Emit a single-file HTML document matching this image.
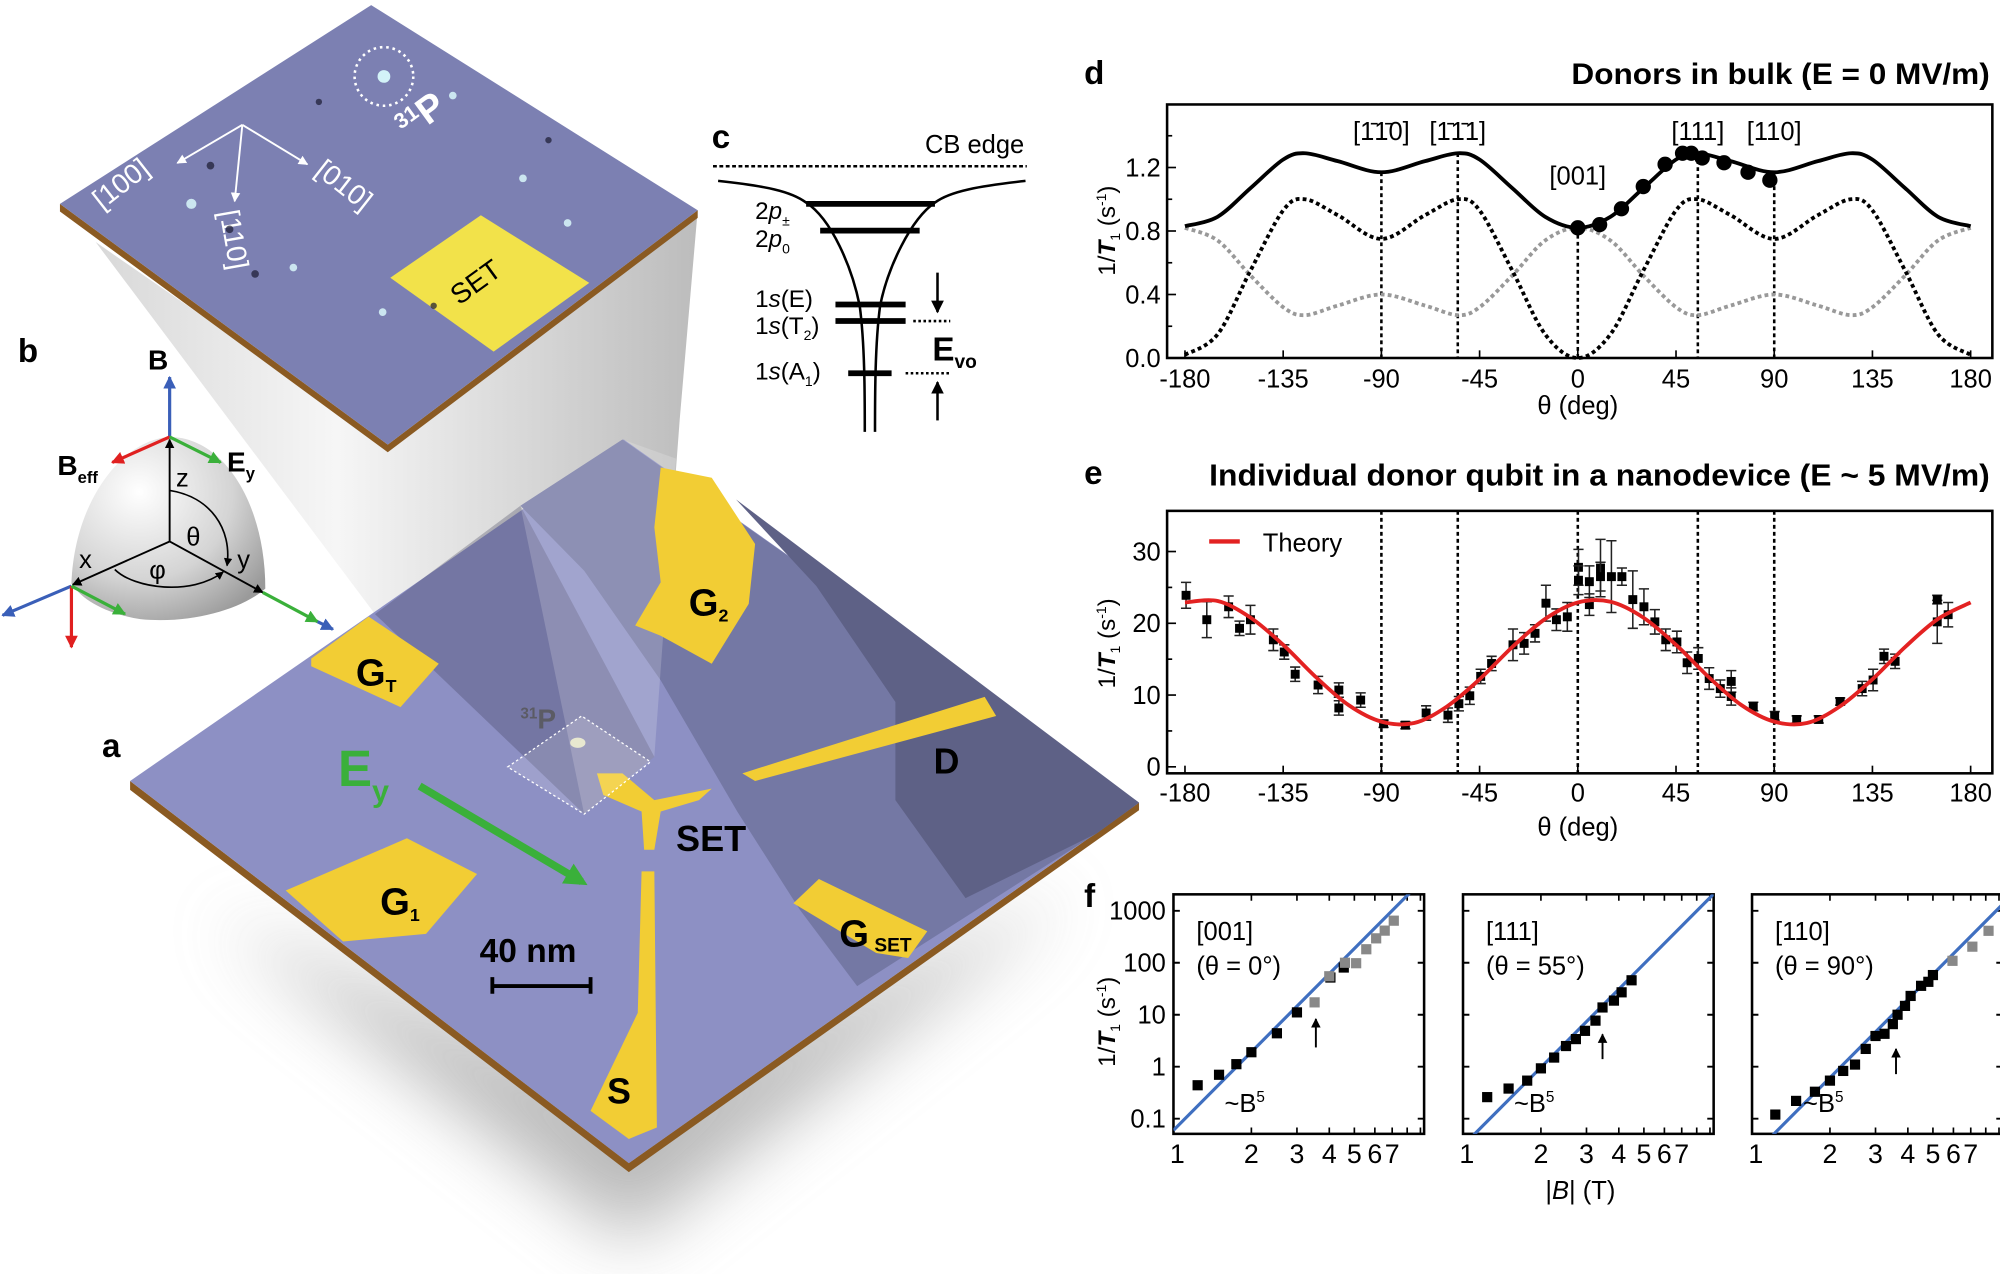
<!DOCTYPE html>
<html><head><meta charset="utf-8"><style>
html,body{margin:0;padding:0;background:#fff;width:2000px;height:1274px;overflow:hidden}
svg{display:block}
text{font-family:"Liberation Sans",sans-serif}
.n{font-family:"Liberation Sans Narrow","Liberation Sans",sans-serif}
</style></head><body>
<svg id="fig" width="2000" height="1274" viewBox="0 0 1568 1000" preserveAspectRatio="none" xmlns="http://www.w3.org/2000/svg">
<defs>
<linearGradient id="funnel" x1="0" y1="0" x2="1" y2="0"><stop offset="0" stop-color="#d8d8d8"/><stop offset="0.4" stop-color="#f6f6f6"/><stop offset="1" stop-color="#bcbcbc"/></linearGradient>
<radialGradient id="dome" cx="0.35" cy="0.3" r="0.8"><stop offset="0" stop-color="#ffffff"/><stop offset="0.6" stop-color="#d4d4d4"/><stop offset="1" stop-color="#9a9a9a"/></radialGradient>
<filter id="blur" x="-50%" y="-50%" width="200%" height="200%"><feGaussianBlur stdDeviation="28"/></filter>
<marker id="ah" viewBox="0 0 10 10" refX="9" refY="5" markerWidth="5" markerHeight="5" orient="auto"><path d="M0,0L10,5L0,10z" fill="#000"/></marker>
<marker id="ahw" viewBox="0 0 10 10" refX="9" refY="5" markerWidth="5" markerHeight="5" orient="auto"><path d="M0,0L10,5L0,10z" fill="#fff"/></marker>
<marker id="ahr" viewBox="0 0 10 10" refX="9" refY="5" markerWidth="4" markerHeight="4" orient="auto"><path d="M0,0L10,5L0,10z" fill="#e02020"/></marker>
<marker id="ahg" viewBox="0 0 10 10" refX="9" refY="5" markerWidth="4" markerHeight="4" orient="auto"><path d="M0,0L10,5L0,10z" fill="#3ab03a"/></marker>
<marker id="ahb" viewBox="0 0 10 10" refX="9" refY="5" markerWidth="4" markerHeight="4" orient="auto"><path d="M0,0L10,5L0,10z" fill="#3a5fb8"/></marker>
<marker id="ahG" viewBox="0 0 10 10" refX="7" refY="5" markerWidth="3" markerHeight="3" orient="auto"><path d="M0,0L10,5L0,10z" fill="#3ab03a"/></marker>
</defs>

<g>
  <polygon points="170,720 493,975 840,700 493,860" fill="#8a8a8a" opacity="0.6" filter="url(#blur)"/>
  <polygon points="75,190 304,349 547,165 533,328 513,594 458,639 294,482" fill="url(#funnel)"/>
  <polygon points="102,613 493,913 893,630 893,636 493,920 102,620" fill="#8a5a22"/>
  <polygon points="102,613 489,345 893,630 493,913" fill="#8d90c4"/>
  <polygon points="408,397 488,345 893,630 860,654 672,774 627,714 578,637 518,534 458,448" fill="#7478a4"/>
  <polygon points="577,392 893,630 860,654 757,705 702,628 702,551 640,460" fill="#5e6186"/>
  <polygon points="294,482 408,397 513,594 458,639" fill="#3a3c55" opacity="0.3"/>
  <polygon points="408,397 488,345 530,360 513,594 458,639" fill="#ffffff" opacity="0.18"/>
  <polygon points="244,517 289,484 344,521 314,555 244,523" fill="#f2cd34"/>
  <polygon points="518,367 558,375 592,427 587,474 558,521 518,499 498,491 518,457 513,414" fill="#f2cd34"/>
  <polygon points="224,699 319,658 374,686 334,733 269,739" fill="#f2cd34"/>
  <polygon points="622,709 642,690 727,731 712,752 687,748" fill="#f2cd34"/>
  <polygon points="582,607 772,547 781,562 592,613" fill="#f2cd34"/>
  <polygon points="503,684 513,684 515,885 493,894 463,872 500,795" fill="#f2cd34"/>
  <polygon points="468,607 488,607 513,628 558,619 548,628 518,637 513,667 505,667 503,637 473,624" fill="#f2cd34"/>
  <polygon points="398,602 456,562 510,598 458,639" fill="#ffffff" fill-opacity="0.15" stroke="#fff" stroke-width="1" stroke-dasharray="2,2"/>
  <ellipse cx="453" cy="583" rx="6" ry="4" fill="#e8e8d0"/>
  <text x="279" y="538" font-size="30" font-weight="bold">G<tspan font-size="14" dy="5">T</tspan></text>
  <text x="540" y="483" font-size="30" font-weight="bold">G<tspan font-size="14" dy="5">2</tspan></text>
  <text x="408" y="572" font-size="22" font-weight="bold" fill="#555" opacity="0.8"><tspan font-size="12" dy="-8">31</tspan><tspan dy="8">P</tspan></text>
  <text x="732" y="607" font-size="28" font-weight="bold">D</text>
  <text x="530" y="668" font-size="28" font-weight="bold" textLength="55" lengthAdjust="spacingAndGlyphs">SET</text>
  <text x="265" y="617" font-size="40" font-weight="bold" fill="#3ab03a">E<tspan font-size="24" dy="12">y</tspan></text>
  <line x1="329" y1="617" x2="456" y2="692" stroke="#3ab03a" stroke-width="6" marker-end="url(#ahG)"/>
  <text x="298" y="718" font-size="30" font-weight="bold">G<tspan font-size="14" dy="5">1</tspan></text>
  <text x="658" y="743" font-size="30" font-weight="bold">G<tspan font-size="15" dy="4"> SET</tspan></text>
  <text x="376" y="755" font-size="26" font-weight="bold" textLength="76" lengthAdjust="spacingAndGlyphs">40 nm</text>
  <path d="M386,767V780M386,774H463M463,767V780" stroke="#000" stroke-width="3" fill="none"/>
  <text x="476" y="866" font-size="28" font-weight="bold">S</text>
  <text x="80" y="594" font-size="26" font-weight="bold">a</text>
  <polygon points="47,160 304,349 547,165 547,171 304,355 47,166" fill="#8a5a22"/>
  <polygon points="291,4 547,165 304,349 47,160" fill="#7c80b2"/>
  <polygon points="377,169 462,222 387,276 306,218" fill="#f2e24a"/>
  <text transform="translate(360,240) rotate(-36)" font-size="22">SET</text>
  <circle cx="301" cy="60" r="23" fill="none" stroke="#fff" stroke-width="2" stroke-dasharray="2,3"/>
  <circle cx="301" cy="60" r="5" fill="#dff" opacity="0.9"/>
  <text transform="translate(320,110) rotate(-36)" font-size="30" font-weight="bold" fill="#fff"><tspan font-size="17" dy="-10">31</tspan><tspan dy="10">P</tspan></text>
  <line x1="190" y1="98" x2="139" y2="128" stroke="#fff" stroke-width="1.5" marker-end="url(#ahw)"/>
  <line x1="190" y1="98" x2="184" y2="158" stroke="#fff" stroke-width="1.5" marker-end="url(#ahw)"/>
  <line x1="190" y1="98" x2="241" y2="129" stroke="#fff" stroke-width="1.5" marker-end="url(#ahw)"/>
  <text transform="translate(80,165) rotate(-38)" font-size="22" fill="#fff">[100]</text>
  <text transform="translate(172,166) rotate(80)" font-size="22" fill="#fff">[110]</text>
  <text transform="translate(246,136) rotate(38)" font-size="22" fill="#fff">[010]</text>
  <g fill="#dfffff" opacity="0.8"><circle cx="150" cy="160" r="4"/><circle cx="355" cy="75" r="3"/><circle cx="410" cy="140" r="3"/><circle cx="445" cy="175" r="3"/><circle cx="300" cy="245" r="3"/><circle cx="230" cy="210" r="3"/></g>
  <g fill="#1a1a30" opacity="0.7"><circle cx="180" cy="180" r="3"/><circle cx="200" cy="215" r="3"/><circle cx="250" cy="80" r="2.5"/><circle cx="165" cy="130" r="3"/><circle cx="340" cy="240" r="2.5"/><circle cx="430" cy="110" r="2.5"/></g>
</g>

<g>
  <text x="14" y="284" font-size="26" font-weight="bold">b</text>
  <path d="M56,458 C58,395 95,345 133,343 C175,343 208,395 208,462 C190,478 150,490 110,486 C85,482 65,472 56,458Z" fill="url(#dome)"/>
  <line x1="133" y1="343" x2="133" y2="296" stroke="#3a5fb8" stroke-width="2.5" marker-end="url(#ahb)"/>
  <line x1="133" y1="343" x2="88" y2="363" stroke="#e02020" stroke-width="2.5" marker-end="url(#ahr)"/>
  <line x1="133" y1="343" x2="173" y2="363" stroke="#3ab03a" stroke-width="2.5" marker-end="url(#ahg)"/>
  <line x1="133" y1="425" x2="133" y2="345" stroke="#000" stroke-width="1.5" marker-end="url(#ah)"/>
  <line x1="133" y1="425" x2="57" y2="459" stroke="#000" stroke-width="1.5" marker-end="url(#ah)"/>
  <line x1="133" y1="425" x2="206" y2="465" stroke="#000" stroke-width="1.5" marker-end="url(#ah)"/>
  <line x1="56" y1="460" x2="2" y2="483" stroke="#3a5fb8" stroke-width="2.5" marker-end="url(#ahb)"/>
  <line x1="56" y1="460" x2="56" y2="508" stroke="#e02020" stroke-width="2.5" marker-end="url(#ahr)"/>
  <line x1="56" y1="460" x2="98" y2="482" stroke="#3ab03a" stroke-width="2.5" marker-end="url(#ahg)"/>
  <line x1="206" y1="465" x2="249" y2="488" stroke="#3ab03a" stroke-width="2.5" marker-end="url(#ahg)"/>
  <line x1="249" y1="488" x2="261" y2="494" stroke="#3a5fb8" stroke-width="2.5" marker-end="url(#ahb)"/>
  <path d="M133,385 C165,390 182,415 178,444" fill="none" stroke="#000" stroke-width="1.3" marker-end="url(#ah)"/>
  <path d="M90,447 C105,462 150,468 175,449" fill="none" stroke="#000" stroke-width="1.3" marker-end="url(#ah)"/>
  <text x="116" y="290" font-size="22" font-weight="bold">B</text>
  <text x="45" y="373" font-size="22" font-weight="bold">B<tspan font-size="13" dy="6">eff</tspan></text>
  <text x="178" y="370" font-size="22" font-weight="bold">E<tspan font-size="13" dy="6">y</tspan></text>
  <text x="138" y="382" font-size="20">z</text>
  <text x="146" y="428" font-size="20">θ</text>
  <text x="62" y="446" font-size="20">x</text>
  <text x="186" y="446" font-size="20">y</text>
  <text x="117" y="454" font-size="20">φ</text>
</g>

<g>
  <text x="558" y="116" font-size="26" font-weight="bold">c</text>
  <text x="803" y="120" font-size="20" text-anchor="end">CB edge</text>
  <line x1="559" y1="130.5" x2="805" y2="130.5" stroke="#000" stroke-width="2" stroke-dasharray="3,2"/>
  <path d="M563,142 C600,146 620,150 632,159 C652,172 668,210 674,240 C678,270 678,310 678,339" fill="none" stroke="#000" stroke-width="2"/>
  <path d="M804,142 C768,146 745,150 733,159 C714,172 696,210 690,240 C686,270 686,310 686,339" fill="none" stroke="#000" stroke-width="2"/>
  <g stroke="#000" stroke-width="4.5">
    <line x1="632" y1="160" x2="733" y2="160"/><line x1="643" y1="181" x2="721" y2="181"/>
    <line x1="655" y1="239" x2="710" y2="239"/><line x1="655" y1="252" x2="710" y2="252"/>
    <line x1="665" y1="293" x2="699" y2="293"/>
  </g>
  <g stroke="#000" stroke-width="2" stroke-dasharray="2,2"><line x1="716" y1="252" x2="745" y2="252"/><line x1="710" y1="293" x2="745" y2="293"/></g>
  <line x1="735" y1="214" x2="735" y2="245" stroke="#000" stroke-width="2" marker-end="url(#ah)"/>
  <line x1="735" y1="330" x2="735" y2="300" stroke="#000" stroke-width="2" marker-end="url(#ah)"/>
  <text x="731" y="283" font-size="26" font-weight="bold">E<tspan font-size="15" dy="6">vo</tspan></text>
  <g font-size="19">
    <text x="592" y="172">2<tspan font-style="italic">p</tspan><tspan font-size="11" dy="5">±</tspan></text>
    <text x="592" y="194">2<tspan font-style="italic">p</tspan><tspan font-size="11" dy="5">0</tspan></text>
    <text x="592" y="241">1<tspan font-style="italic">s</tspan>(E)</text>
    <text x="592" y="262">1<tspan font-style="italic">s</tspan>(T<tspan font-size="11" dy="5">2</tspan><tspan dy="-5">)</tspan></text>
    <text x="592" y="298">1<tspan font-style="italic">s</tspan>(A<tspan font-size="11" dy="5">1</tspan><tspan dy="-5">)</tspan></text>
  </g>
</g>

<g id="pd"></g>
<g id="pe"></g>
<g id="pf"></g>
</svg>
<script>
const thetaD = [-180,-165,-150,-135,-125,-110,-90,-70,-55,-45,-30,-15,0,15,30,45,55,70,90,110,125,135,150,165,180];
const blackD = [0.02,0.15,0.55,0.93,1.0,0.9,0.75,0.9,1.0,0.93,0.55,0.15,0,0.15,0.55,0.93,1.0,0.9,0.75,0.9,1.0,0.93,0.55,0.15,0.02];
const grayD  = [0.82,0.74,0.52,0.32,0.27,0.33,0.40,0.33,0.27,0.32,0.52,0.74,0.82,0.74,0.52,0.32,0.27,0.33,0.40,0.33,0.27,0.32,0.52,0.74,0.82];
const totalD = [0.83,0.89,1.07,1.25,1.29,1.24,1.17,1.24,1.29,1.25,1.07,0.89,0.82,0.89,1.07,1.25,1.29,1.24,1.17,1.24,1.29,1.25,1.07,0.89,0.83];
const ptThetaD = [0,10,20,30,40,48,52,57,67,78,88];
const ptValD = [0.82,0.84,0.94,1.08,1.22,1.29,1.29,1.26,1.23,1.17,1.12];
const dirTheta = [-90,-55,0,55,90];
const dirTopD = [1.17,1.29,0.82,1.29,1.17];
const dirLabels = ["[1̄1̄0]","[1̄1̄1]","[001]","[111]","[110]"];
const xTicks = [-180,-135,-90,-45,0,45,90,135,180];
const yTicksD = [0.0,0.4,0.8,1.2];
const thetaTh = [-180,-165,-150,-135,-120,-105,-90,-75,-60,-45,-30,-15,0,15,30,45,60,75,90,105,120,135,150,165,180];
const theoryE = [22.9,23.1,20.8,17.0,12.5,8.6,6.3,6.1,8.4,12.2,16.7,20.6,22.9,23.0,20.8,17.0,12.5,8.6,6.3,6.1,8.4,12.2,16.7,20.6,22.9];
const thetaE = [-179.5,-170,-160,-155,-150,-139.5,-134.5,-129.5,-119,-109.5,-109.5,-99.5,-89,-79,-69.5,-59.5,-54.5,-49.5,-44.5,-39.5,-29.7,-24.6,-19.6,-14.6,-9.8,-4.8,0.3,0.3,5.3,5.3,10.4,10.4,15.4,20.2,25.2,30.3,35.3,40.3,45.4,50.1,55.2,60.2,65.3,70.3,70.3,80.4,90.2,100.3,110.4,120.2,130.3,135.3,140.3,145.4,164.7,164.7,169.7];
const valE = [23.9,20.5,22.3,19.3,20.5,17.7,16,12.9,11.4,8.2,10.7,9.3,6,5.8,7.5,7.2,8.8,9.9,12.6,14.4,17,17.2,18.6,22.8,20.5,20.9,27.8,26,22.6,25.8,27.7,26.5,26.5,26.5,23.3,22.3,20.2,17.7,17.4,14.5,15.1,12.3,10.9,11.9,9.8,8.4,7.1,6.6,6.6,9.1,10.9,12.1,15.4,14.7,20.2,23.3,21.2];
const errE = [1.8,2.5,1.5,1,2,1.5,1,1,1.2,1,1,1,0.5,0.5,1,1,1,1.2,1,1,2.2,1.5,1.2,2.5,1.5,2,2.5,2,1.5,2.2,4,2,5,1.2,4,2.5,1.7,1.5,1.5,1.5,1.5,1.5,1.2,1.5,1.2,0.6,0.6,0.5,0.5,0.5,1,1.5,1,1,3,0.6,1.7];
const yTicksE = [0,10,20,30];
const fB1 = [1.24,1.5,1.75,2.0,2.51,3.0,4.04,4.55];
const fV1 = [0.44,0.7,1.12,1.9,4.4,11.1,52,81];
const fGB1 = [3.51,4.0,4.6,5.08,5.56,6.07,6.55,7.1];
const fGV1 = [17.3,55,100,98,182,295,415,645];
const fB2 = [1.24,1.5,1.77,2.0,2.25,2.5,2.73,2.96,3.25,3.46,3.83,4.1,4.48];
const fV2 = [0.26,0.38,0.54,0.93,1.5,2.5,3.4,4.9,7.7,13.8,18.7,27,46];
const fGB2 = [];
const fGV2 = [];
const fB3 = [1.23,1.48,1.75,2.0,2.25,2.5,2.75,3.0,3.25,3.5,3.65,3.9,4.1,4.5,4.8,5.0];
const fV3 = [0.12,0.22,0.33,0.54,0.83,1.1,2.2,3.9,4.3,6.6,10,14.8,23,36,43,58];
const fGB3 = [5.95,7.1,8.2];
const fGV3 = [109,204,412];
const fitA = [0.06,0.0303,0.0192];
const fitExp = 5;
const arrowB = [3.55,3.46,3.6];
const arrowTip = [8.3,4.2,2.2];
const arrowTail = [2.35,1.4,0.72];
const fDir = ["[001]","[111]","[110]"];
const fAng = ["(θ = 0°)","(θ = 55°)","(θ = 90°)"];
const fYTicks = [0.1,1,10,100,1000];
const fYLabels = ["0.1","1","10","100","1000"];
const fXLabels = [1,2,3,4,5,6,7];

const NS = "http://www.w3.org/2000/svg";
function el(tag, parent){ const e=document.createElementNS(NS,tag); parent.appendChild(e); return e; }
function setA(e, o){ for(const k in o) e.setAttribute(k,o[k]); return e; }
function smooth(pts){
  let d="M"+pts[0][0].toFixed(2)+","+pts[0][1].toFixed(2);
  for(let i=0;i<pts.length-1;i++){
    const p0=pts[Math.max(0,i-1)],p1=pts[i],p2=pts[i+1],p3=pts[Math.min(pts.length-1,i+2)];
    const c1=[p1[0]+(p2[0]-p0[0])/6,p1[1]+(p2[1]-p0[1])/6], c2=[p2[0]-(p3[0]-p1[0])/6,p2[1]-(p3[1]-p1[1])/6];
    d+="C"+c1[0].toFixed(2)+","+c1[1].toFixed(2)+" "+c2[0].toFixed(2)+","+c2[1].toFixed(2)+" "+p2[0].toFixed(2)+","+p2[1].toFixed(2);
  }
  return d;
}
const xT = t => 1237 + t*1.711;
const FL=915, FR=1562;

function text(parent, x, y, s, size, opts){
  const t=el("text",parent); setA(t,{x:x,y:y,"font-size":size}); t.textContent=s;
  if(opts) setA(t,opts); return t;
}
function thetaAxis(g, yb, labelY, titleY){
  xTicks.forEach(v=>{
    const tk=el("line",g); setA(tk,{x1:xT(v),x2:xT(v),y1:yb,y2:yb-6,stroke:"#000","stroke-width":1.3});
    
    
    const lb=text(g,xT(v),labelY,String(v),20,{"text-anchor":"middle"});
    
    
  });
  const xl=text(g,1237,titleY,"θ (deg)",20,{"text-anchor":"middle"});
  
  
}
function yLabel(g,x,y){
  const t=el("text",g); setA(t,{transform:`translate(${x},${y}) rotate(-90)`,"font-size":19,"text-anchor":"middle"});
  t.innerHTML='1/<tspan font-style="italic" font-weight="bold">T</tspan><tspan font-size="11" dy="4">1</tspan><tspan dy="-4"> (s</tspan><tspan font-size="11" dy="-7">-1</tspan><tspan dy="7">)</tspan>';
  
  
}

(function(){
  const g=document.getElementById("pd");
  const top=82, bot=281, yD=v=>281 - v*124.6;
  const pl=text(g,850,66,"d",26,{"font-weight":"bold"});
  
  
  const ti=text(g,1232,66,"Donors in bulk (E = 0 MV/m)",23,{"font-weight":"bold",textLength:328,lengthAdjust:"spacingAndGlyphs"});
  
  
  const fr=el("rect",g); setA(fr,{x:FL,y:top,width:FR-FL,height:bot-top,fill:"none",stroke:"#000","stroke-width":2});
  
  
  for(let v=0; v<=1.41; v+=0.2){
    const tk=el("line",g); setA(tk,{x1:FL,x2:FL+(Math.round(v*10)%4==0?7:4),y1:yD(v),y2:yD(v),stroke:"#000","stroke-width":1.3});
    
    
  }
  yTicksD.forEach(v=>{
    const lb=text(g,910,yD(v)+7,v.toFixed(1),20,{"text-anchor":"end"});
    
    
  });
  yLabel(g,874,181);
  thetaAxis(g,bot,304,325);
  dirTheta.forEach((t,i)=>{
    const l=el("line",g); setA(l,{x1:xT(t),x2:xT(t),y1:yD(dirTopD[i]),y2:bot,stroke:"#000","stroke-width":2,"stroke-dasharray":"3,2.5"});
    
    
    const ly = (t===0)?145:110;
    const lb=text(g,xT(t),ly,dirLabels[i],20,{"text-anchor":"middle"});
    
    
  });
  const gp=el("path",g); setA(gp,{d:smooth(thetaD.map((t,i)=>[xT(t),yD(grayD[i])])),fill:"none",stroke:"#999","stroke-width":3,"stroke-dasharray":"3,2.5"});
  
  
  const bp=el("path",g); setA(bp,{d:smooth(thetaD.map((t,i)=>[xT(t),yD(blackD[i])])),fill:"none",stroke:"#000","stroke-width":3,"stroke-dasharray":"3,2.5"});
  
  
  const sp=el("path",g); setA(sp,{d:smooth(thetaD.map((t,i)=>[xT(t),yD(totalD[i])])),fill:"none",stroke:"#000","stroke-width":3});
  
  
  ptThetaD.forEach((t,i)=>{
    const c=el("circle",g); setA(c,{cx:xT(t),cy:yD(ptValD[i]),r:6,fill:"#000"});
    
    
  });
})();

(function(){
  const g=document.getElementById("pe");
  const top=401, bot=607, yE=v=>601.9 - v*5.633;
  const pl=text(g,850,380,"e",26,{"font-weight":"bold"});
  
  
  const ti=text(g,948,381,"Individual donor qubit in a nanodevice (E ~ 5 MV/m)",24,{"font-weight":"bold",textLength:612,lengthAdjust:"spacingAndGlyphs"});
  
  
  const fr=el("rect",g); setA(fr,{x:FL,y:top,width:FR-FL,height:bot-top,fill:"none",stroke:"#000","stroke-width":2});
  
  
  for(let v=0; v<=30; v+=5){
    const tk=el("line",g); setA(tk,{x1:FL,x2:FL+(v%10==0?7:4),y1:yE(v),y2:yE(v),stroke:"#000","stroke-width":1.3});
    
    
  }
  yTicksE.forEach(v=>{
    const lb=text(g,910,yE(v)+7,String(v),20,{"text-anchor":"end"});
    
    
  });
  yLabel(g,874,505);
  thetaAxis(g,bot,629,656);
  dirTheta.forEach(t=>{
    const l=el("line",g); setA(l,{x1:xT(t),x2:xT(t),y1:top,y2:bot,stroke:"#000","stroke-width":2,"stroke-dasharray":"3,2.5"});
    
    
  });
  thetaE.forEach((t,i)=>{
    const x=xT(t), y0=yE(valE[i]-errE[i]), y1=yE(valE[i]+errE[i]);
    const eb=el("path",g); setA(eb,{d:`M${x},${y0}V${y1}M${x-4},${y0}H${x+4}M${x-4},${y1}H${x+4}`,stroke:"#222","stroke-width":1.2,fill:"none"});
    
    
    const r=el("rect",g); setA(r,{x:x-3.5,y:yE(valE[i])-3.5,width:7,height:7,fill:"#000"});
    
    
  });
  const th=el("path",g); setA(th,{d:smooth(thetaTh.map((t,i)=>[xT(t),yE(theoryE[i])])),fill:"none",stroke:"#e32222","stroke-width":3});
  
  
  const ll=el("line",g); setA(ll,{x1:948,x2:972,y1:425,y2:425,stroke:"#e32222","stroke-width":3.5});
  
  
  const lt=text(g,990,433,"Theory",20);
  
  
})();

(function(){
  const g=document.getElementById("pf");
  const lefts=[920,1147,1373.6], W=196.5, top=702, bot=890;
  const yF=v=>714.9 + (3-Math.log10(v))*40.8;
  const pl=text(g,850,712,"f",26,{"font-weight":"bold"});
  
  
  const sets=[[fB1,fV1,fGB1,fGV1],[fB2,fV2,fGB2,fGV2],[fB3,fV3,fGB3,fGV3]];
  lefts.forEach((L,p)=>{
    const xF=b=>L + Math.log10(b)*202.9;
    const sg=el("g",g);
    
    
    const cp=el("clipPath",sg); cp.setAttribute("id","cf"+p);
    const cr=el("rect",cp); setA(cr,{x:L,y:top,width:W,height:bot-top});
    const fr=el("rect",sg); setA(fr,{x:L,y:top,width:W,height:bot-top,fill:"none",stroke:"#000","stroke-width":2});
    
    
    fYTicks.forEach(v=>{
      const tk=el("path",sg); setA(tk,{d:`M${L},${yF(v)}h5M${L+W},${yF(v)}h-5`,stroke:"#000","stroke-width":1.5});
      
      
    });
    for(let b=1;b<=9;b++){
      const tk=el("path",sg); setA(tk,{d:`M${xF(b)},${bot}v-5M${xF(b)},${top}v5`,stroke:"#000","stroke-width":1.3});
      
      
    }
    fXLabels.forEach(b=>{
      const lb=text(sg,xF(b)+(b===1?3:0),913,String(b),21,{"text-anchor":"middle"});
      
      
    });
    if(p===0){
      fYTicks.forEach((v,i)=>{
        const lb=text(sg,914,yF(v)+7,fYLabels[i],20,{"text-anchor":"end"});
        
        
      });
    }
    const b0=1, b1=10;
    const fl=el("line",sg); setA(fl,{x1:xF(b0),y1:yF(fitA[p]*Math.pow(b0,fitExp)),x2:xF(b1),y2:yF(fitA[p]*Math.pow(b1,fitExp)),stroke:"#3f6fc0","stroke-width":2.5,"clip-path":`url(#cf${p})`});
    
    
    const [bs,vs,gbs,gvs]=sets[p];
    bs.forEach((b,i)=>{
      const r=el("rect",sg); setA(r,{x:xF(b)-4,y:yF(vs[i])-4,width:8,height:8,fill:"#000"});
      
      
    });
    gbs.forEach((b,i)=>{
      const r=el("rect",sg); setA(r,{x:xF(b)-4,y:yF(gvs[i])-4,width:8,height:8,fill:"#888"});
      
      
    });
    const ar=el("line",sg); setA(ar,{x1:xF(arrowB[p]),x2:xF(arrowB[p]),y1:yF(arrowTail[p]),y2:yF(arrowTip[p]),stroke:"#000","stroke-width":1.5,"marker-end":"url(#ah)"});
    
    
    const d1=text(sg,L+18,738,fDir[p],20);
    
    
    const d2=text(sg,L+18,765,fAng[p],20);
    
    
    const bl=el("text",sg); setA(bl,{x:L+40,y:873,"font-size":20});
    bl.innerHTML='~B<tspan font-size="12" dy="-8">5</tspan>';
    
    
  });
  yLabel(g,874,802);
  const xl=el("text",g); setA(xl,{x:1239,y:941,"font-size":20,"text-anchor":"middle"});
  xl.innerHTML='|<tspan font-style="italic">B</tspan>| (T)';
  
  
})();
</script>
</body></html>
